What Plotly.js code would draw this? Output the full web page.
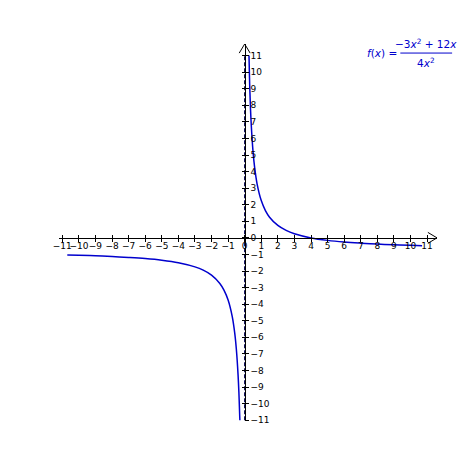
<!DOCTYPE html>
<html>
<head>
<meta charset="utf-8">
<script src="https://cdn.plot.ly/plotly-3.0.1.min.js"></script>
<style>
  html, body { margin: 0; padding: 0; background: #fff; }
  #chart { width: 474px; height: 474px; }
</style>
</head>
<body>
<div id="chart"></div>
<script>
// values
var rightX = [0.26, 0.3, 0.35, 0.4, 0.5, 0.6, 0.75, 1, 1.25, 1.5, 2, 2.5, 3, 4, 5, 6, 7, 8, 9, 10, 10.7];
var rightY = [11, 9.25, 7.8, 6.75, 5.25, 4.25, 3.25, 2.25, 1.65, 1.25, 0.75, 0.45, 0.25, 0, -0.15, -0.25, -0.32, -0.375, -0.42, -0.45, -0.47];
var leftX = [-10.7, -10, -9, -8, -7, -6, -5, -4, -3, -2.5, -2, -1.5, -1.25, -1, -0.75, -0.6, -0.5, -0.4, -0.35, -0.3, -0.29];
var leftY = [-1.03, -1.05, -1.08, -1.125, -1.18, -1.25, -1.35, -1.5, -1.75, -1.95, -2.25, -2.75, -3.15, -3.75, -4.75, -5.75, -6.75, -8.25, -9.3, -10.75, -11];
var asymX = [0, 0];
var asymY = [-11, 11];
var tickVals = [-11, -10, -9, -8, -7, -6, -5, -4, -3, -2, -1, 0, 1, 2, 3, 4, 5, 6, 7, 8, 9, 10, 11];

var xRange = [-11.2, 11.6];
var yRange = [-11.05, 11.7];
var xZero = (0 - xRange[0]) / (xRange[1] - xRange[0]);
var yZero = (0 - yRange[0]) / (yRange[1] - yRange[0]);

var curveColor = "#0000cd";
var tickFont = {family: "DejaVu Sans", size: 9, color: "#000"};
var mathFont = {family: "DejaVu Sans", size: 10.5, color: curveColor};

var data = [{
    x: rightX, y: rightY, mode: "lines",
    line: {color: curveColor, width: 1.5, shape: "spline"},
    hoverinfo: "skip"
}, {
    x: leftX, y: leftY, mode: "lines",
    line: {color: curveColor, width: 1.5, shape: "spline"},
    hoverinfo: "skip"
}, {
    x: asymX, y: asymY, mode: "lines",
    line: {color: "#000050", width: 1.2, dash: "4px,2px"},
    hoverinfo: "skip"
}, {
    // invisible trace so the overlay axes get drawn
    x: [0], y: [0], xaxis: "x2", yaxis: "y2", mode: "markers",
    marker: {opacity: 0}, hoverinfo: "skip"
}];

function axisBase(range) {
    return {
        range: range, showgrid: false, zeroline: false,
        tickvals: tickVals, tickfont: tickFont, tickangle: 0,
        fixedrange: true
    };
}

var xaxis = axisBase(xRange);
xaxis.anchor = "free";
xaxis.position = yZero;
xaxis.showline = true;
xaxis.linecolor = "#000";
xaxis.linewidth = 1;
xaxis.ticks = "outside";
xaxis.ticklen = 3;
xaxis.tickcolor = "#000";
xaxis.ticklabelstandoff = -4;

var yaxis = axisBase(yRange);
yaxis.anchor = "free";
yaxis.position = xZero;
yaxis.side = "right";
yaxis.showline = true;
yaxis.linecolor = "#000";
yaxis.linewidth = 1;
yaxis.ticks = "outside";
yaxis.ticklen = 3;
yaxis.tickcolor = "#000";

var xaxis2 = axisBase(xRange);
xaxis2.overlaying = "x";
xaxis2.anchor = "free";
xaxis2.position = yZero;
xaxis2.ticks = "inside";
xaxis2.ticklen = 3;
xaxis2.tickcolor = "#000";
xaxis2.showticklabels = false;

var yaxis2 = axisBase(yRange);
yaxis2.overlaying = "y";
yaxis2.anchor = "free";
yaxis2.position = xZero;
yaxis2.side = "right";
yaxis2.ticks = "inside";
yaxis2.ticklen = 3;
yaxis2.tickcolor = "#000";
yaxis2.showticklabels = false;

var layout = {
    width: 474, height: 474,
    margin: {l: 59, r: 37, t: 44, b: 53},
    paper_bgcolor: "#fff", plot_bgcolor: "#fff",
    showlegend: false,
    xaxis: xaxis, yaxis: yaxis, xaxis2: xaxis2, yaxis2: yaxis2,
    shapes: [{
        // arrow heads on the axes
        type: "path", xref: "x", yref: "y",
        path: "M 11.05,0.33 L 11.6,0 L 11.05,-0.33",
        line: {color: "#000", width: 1}
    }, {
        type: "path", xref: "x", yref: "y",
        path: "M -0.33,11.15 L 0,11.7 L 0.33,11.15",
        line: {color: "#000", width: 1}
    }, {
        // fraction bar of the formula
        type: "line", xref: "paper", yref: "paper",
        x0: 0.903, x1: 1.04, y0: 0.976, y1: 0.976,
        line: {color: curveColor, width: 1}
    }],
    annotations: [{
        xref: "paper", yref: "paper", x: 0.899, y: 0.976,
        xanchor: "right", yanchor: "middle", showarrow: false,
        text: "<i>f</i>(<i>x</i>) =", font: mathFont
    }, {
        xref: "paper", yref: "paper", x: 0.9715, y: 0.979,
        xanchor: "center", yanchor: "bottom", showarrow: false,
        text: "−3<i>x</i><sup>2</sup> + 12<i>x</i>", font: mathFont
    }, {
        xref: "paper", yref: "paper", x: 0.9715, y: 0.974,
        xanchor: "center", yanchor: "top", showarrow: false,
        text: "4<i>x</i><sup>2</sup>", font: mathFont
    }]
};

var config = {displayModeBar: false, staticPlot: true};

Plotly.newPlot("chart", data, layout, config);
</script>
</body>
</html>
